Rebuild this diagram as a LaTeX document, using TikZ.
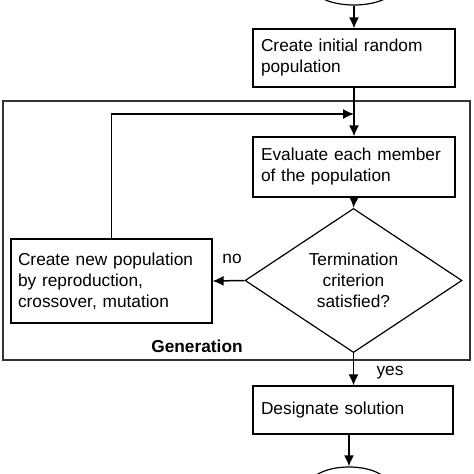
\documentclass[tikz,border=0pt]{standalone}
\usepackage{fontspec}
\setmainfont{Liberation Sans}
\usetikzlibrary{arrows.meta,shapes.geometric}
\begin{document}
\begin{tikzpicture}[x=1pt,y=-1pt,
  every node/.style={font=\fontsize{17.3}{21}\selectfont},
  box/.style={draw,line width=1.2pt,align=left,inner sep=0pt,anchor=center},
  arr/.style={line width=1.5pt,-{Latex[length=11pt,width=10pt]}},
  term/.style={draw,line width=1.2pt,ellipse,minimum width=80pt,minimum height=34pt,inner sep=0pt}]
\useasboundingbox (0,0) rectangle (474,474);
\clip (0,0) rectangle (474,474);
% terminators
\node[term] (start) at (354,-12) {};
\node[term,minimum height=38pt] (stop) at (349,486) {};
% generation frame
\draw[line width=1.2pt,black!80] (3,101) rectangle (470,360);
\node[font=\bfseries\fontsize{17.3}{21}\selectfont] (gen) at (197,346) {Generation};
% boxes
\node[box,minimum width=202pt,minimum height=58pt,text width=186pt] (init) at (354,58) {Create initial random\\population};
\node[box,minimum width=202pt,minimum height=60pt,text width=186pt] (eval) at (354,167) {Evaluate each member\\of the population};
\node[draw,line width=1.2pt,shape=diamond,minimum width=217pt,minimum height=105pt,inner sep=0pt,align=center] (crit) at (353.5,280.5) {Termination\\criterion\\satisfied?};
\node[box,minimum width=201pt,minimum height=84pt,text width=187pt] (newp) at (111.5,281) {Create new population\\by reproduction,\\crossover, mutation};
\node[box,minimum width=200pt,minimum height=48pt,text width=184pt] (des) at (353,410) {Designate solution};
% connectors
\coordinate (m) at (354,114);
\draw[arr] (start.south) -- (init.north);
\draw[arr] (init.south) -- (eval.north);
\draw[arr] (eval.south) -- (crit.north);
\draw[arr] (crit.west) -- (newp.east);
\draw[arr] (newp.north) |- (m);
\draw[arr] (crit.south) -- (des.north -| crit.south);
\draw[arr] (des.south -| stop.north) -- (stop.north);
\node (no) at (232,259) {no};
\node (yes) at (390,373) {yes};
\end{tikzpicture}
\end{document}
